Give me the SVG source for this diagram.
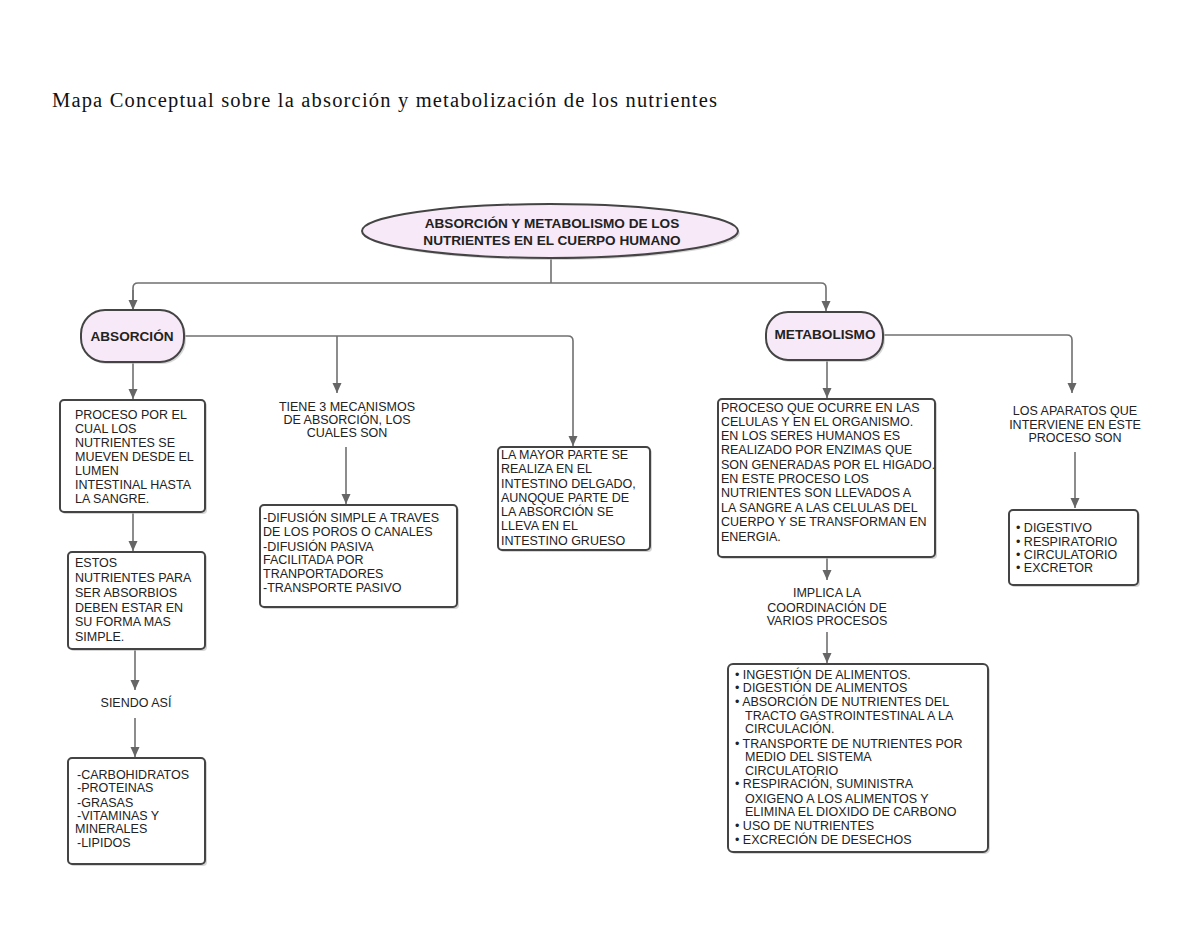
<svg xmlns="http://www.w3.org/2000/svg" width="1200" height="927" viewBox="0 0 1200 927">
<style>
.title{font-family:"Liberation Serif","DejaVu Serif",serif;font-size:20.5px;fill:#111}
.t{font-family:"Liberation Sans","DejaVu Sans",sans-serif;font-size:12.5px;fill:#222}
.tb{font-family:"Liberation Sans","DejaVu Sans",sans-serif;font-size:13.6px;font-weight:bold;fill:#222}
.box{fill:#fff;stroke:#444;stroke-width:2}
.shadow{fill:#bbb;stroke:none;opacity:0.6}
.node{fill:#f7e9f7;stroke:#444;stroke-width:2}
.c{fill:none;stroke:#707070;stroke-width:1.6}
</style>
<defs>
<marker id="arr" markerUnits="userSpaceOnUse" markerWidth="10" markerHeight="10" refX="10" refY="4.5" orient="auto">
<path d="M0,0 L10,4.5 L0,9 z" fill="#666"/>
</marker>
</defs>
<rect width="1200" height="927" fill="#fff"/>
<text class="title" x="52" y="107" textLength="665" lengthAdjust="spacing">Mapa Conceptual sobre la absorción y metabolización de los nutrientes</text>

<g id="connectors">
<path class="c" d="M551,258 V283"/>
<path class="c" d="M133,310 V288 Q133,283 138,283 H821 Q826,283 826,288 V311" marker-end="url(#arr)"/>
<path class="c" d="M133,290 V310" marker-end="url(#arr)"/>
<path class="c" d="M133,362 V399" marker-end="url(#arr)"/>
<path class="c" d="M184,336 H568 Q573,336 573,341 V446" marker-end="url(#arr)"/>
<path class="c" d="M337,336 V393" marker-end="url(#arr)"/>
<path class="c" d="M133,512 V551" marker-end="url(#arr)"/>
<path class="c" d="M135,650 V690" marker-end="url(#arr)"/>
<path class="c" d="M135,718 V757" marker-end="url(#arr)"/>
<path class="c" d="M346,447 V504" marker-end="url(#arr)"/>
<path class="c" d="M827,360 V398" marker-end="url(#arr)"/>
<path class="c" d="M883,335 H1067 Q1072,335 1072,340 V393" marker-end="url(#arr)"/>
<path class="c" d="M827,557 V580" marker-end="url(#arr)"/>
<path class="c" d="M827,632 V663" marker-end="url(#arr)"/>
<path class="c" d="M1075,452 V508" marker-end="url(#arr)"/>
</g>

<g id="root">
<ellipse class="shadow" cx="552" cy="233" rx="188" ry="27"/>
<ellipse class="node" cx="550" cy="231" rx="188" ry="27"/>
<text class="tb" x="552" y="228" text-anchor="middle">ABSORCIÓN Y METABOLISMO DE LOS</text>
<text class="tb" x="552" y="245" text-anchor="middle">NUTRIENTES EN EL CUERPO HUMANO</text>
</g>

<g id="absorcion">
<rect class="shadow" x="83" y="312" width="103" height="52" rx="24"/>
<rect class="node" x="81" y="310" width="103" height="52" rx="24"/>
<text class="tb" x="132" y="341" text-anchor="middle">ABSORCIÓN</text>
</g>

<g id="metabolismo">
<rect class="shadow" x="768" y="314" width="117" height="48" rx="22"/>
<rect class="node" x="766" y="312" width="117" height="48" rx="22"/>
<text class="tb" x="825" y="339" text-anchor="middle">METABOLISMO</text>
</g>

<g id="proceso-absorcion">
<rect class="shadow" x="62" y="402" width="145" height="112" rx="4"/>
<rect class="box" x="60" y="400" width="145" height="112" rx="4"/>
<text class="t" x="75" y="419">PROCESO POR EL</text>
<text class="t" x="75" y="433">CUAL LOS</text>
<text class="t" x="75" y="447">NUTRIENTES SE</text>
<text class="t" x="75" y="461">MUEVEN DESDE EL</text>
<text class="t" x="75" y="475">LUMEN</text>
<text class="t" x="75" y="489">INTESTINAL HASTA</text>
<text class="t" x="75" y="503">LA SANGRE.</text>
</g>

<g id="estos-nutrientes">
<rect class="shadow" x="70" y="554" width="137" height="97" rx="4"/>
<rect class="box" x="68" y="552" width="137" height="97" rx="4"/>
<text class="t" x="75" y="567">ESTOS</text>
<text class="t" x="75" y="582">NUTRIENTES PARA</text>
<text class="t" x="75" y="597">SER ABSORBIOS</text>
<text class="t" x="75" y="612">DEBEN ESTAR EN</text>
<text class="t" x="75" y="626">SU FORMA MAS</text>
<text class="t" x="75" y="641">SIMPLE.</text>
</g>

<g id="siendo-asi">
<text class="t" x="136" y="707" text-anchor="middle">SIENDO ASÍ</text>
</g>

<g id="nutrientes-lista">
<rect class="shadow" x="70" y="760" width="137" height="106" rx="4"/>
<rect class="box" x="68" y="758" width="137" height="106" rx="4"/>
<text class="t" x="77" y="779">-CARBOHIDRATOS</text>
<text class="t" x="77" y="792">-PROTEINAS</text>
<text class="t" x="77" y="807">-GRASAS</text>
<text class="t" x="77" y="820">-VITAMINAS Y</text>
<text class="t" x="75" y="833">MINERALES</text>
<text class="t" x="77" y="847">-LIPIDOS</text>
</g>

<g id="tiene-3">
<text class="t" x="347" y="411" text-anchor="middle">TIENE 3 MECANISMOS</text>
<text class="t" x="347" y="424" text-anchor="middle">DE ABSORCIÓN, LOS</text>
<text class="t" x="347" y="437" text-anchor="middle">CUALES SON</text>
</g>

<g id="mecanismos">
<rect class="shadow" x="262" y="507" width="197" height="102" rx="4"/>
<rect class="box" x="260" y="505" width="197" height="102" rx="4"/>
<text class="t" x="263" y="522">-DIFUSIÓN SIMPLE A TRAVES</text>
<text class="t" x="263" y="536">DE LOS POROS O CANALES</text>
<text class="t" x="263" y="551">-DIFUSIÓN PASIVA</text>
<text class="t" x="263" y="564">FACILITADA POR</text>
<text class="t" x="263" y="578">TRANPORTADORES</text>
<text class="t" x="263" y="592">-TRANSPORTE PASIVO</text>
</g>

<g id="mayor-parte">
<rect class="shadow" x="500" y="449" width="152" height="103" rx="4"/>
<rect class="box" x="498" y="447" width="152" height="103" rx="4"/>
<text class="t" x="501" y="459">LA MAYOR PARTE SE</text>
<text class="t" x="501" y="473">REALIZA EN EL</text>
<text class="t" x="501" y="488">INTESTINO DELGADO,</text>
<text class="t" x="501" y="502">AUNQQUE PARTE DE</text>
<text class="t" x="501" y="516">LA ABSORCIÓN SE</text>
<text class="t" x="501" y="530">LLEVA EN EL</text>
<text class="t" x="501" y="545">INTESTINO GRUESO</text>
</g>

<g id="proceso-metabolismo">
<rect class="shadow" x="720" y="401" width="217" height="158" rx="4"/>
<rect class="box" x="718" y="399" width="217" height="158" rx="4"/>
<text class="t" x="721" y="412">PROCESO QUE OCURRE EN LAS</text>
<text class="t" x="721" y="426">CELULAS Y EN EL ORGANISMO.</text>
<text class="t" x="721" y="440">EN LOS SERES HUMANOS ES</text>
<text class="t" x="721" y="454">REALIZADO POR ENZIMAS QUE</text>
<text class="t" x="721" y="469">SON GENERADAS POR EL HIGADO.</text>
<text class="t" x="721" y="483">EN ESTE PROCESO LOS</text>
<text class="t" x="721" y="497">NUTRIENTES SON LLEVADOS A</text>
<text class="t" x="721" y="512">LA SANGRE A LAS CELULAS DEL</text>
<text class="t" x="721" y="526">CUERPO Y SE TRANSFORMAN EN</text>
<text class="t" x="721" y="541">ENERGIA.</text>
</g>

<g id="implica">
<text class="t" x="827" y="597" text-anchor="middle">IMPLICA LA</text>
<text class="t" x="827" y="612" text-anchor="middle">COORDINACIÓN DE</text>
<text class="t" x="827" y="625" text-anchor="middle">VARIOS PROCESOS</text>
</g>

<g id="procesos-lista">
<rect class="shadow" x="730" y="666" width="260" height="188" rx="5"/>
<rect class="box" x="728" y="664" width="260" height="188" rx="5"/>
<text class="t" x="735" y="679">• INGESTIÓN DE ALIMENTOS.</text>
<text class="t" x="735" y="692">• DIGESTIÓN DE ALIMENTOS</text>
<text class="t" x="735" y="706">• ABSORCIÓN DE NUTRIENTES DEL</text>
<text class="t" x="745" y="720">TRACTO GASTROINTESTINAL A LA</text>
<text class="t" x="745" y="733">CIRCULACIÓN.</text>
<text class="t" x="735" y="748">• TRANSPORTE DE NUTRIENTES POR</text>
<text class="t" x="745" y="761">MEDIO DEL SISTEMA</text>
<text class="t" x="745" y="775">CIRCULATORIO</text>
<text class="t" x="735" y="788">• RESPIRACIÓN, SUMINISTRA</text>
<text class="t" x="745" y="803">OXIGENO A LOS ALIMENTOS Y</text>
<text class="t" x="745" y="816">ELIMINA EL DIOXIDO DE CARBONO</text>
<text class="t" x="735" y="830">• USO DE NUTRIENTES</text>
<text class="t" x="735" y="844">• EXCRECIÓN DE DESECHOS</text>
</g>

<g id="aparatos">
<text class="t" x="1075" y="415" text-anchor="middle">LOS APARATOS QUE</text>
<text class="t" x="1075" y="429" text-anchor="middle">INTERVIENE EN ESTE</text>
<text class="t" x="1075" y="442" text-anchor="middle">PROCESO SON</text>
</g>

<g id="aparatos-lista">
<rect class="shadow" x="1011" y="512" width="129" height="75" rx="4"/>
<rect class="box" x="1009" y="510" width="129" height="75" rx="4"/>
<text class="t" x="1016" y="532">• DIGESTIVO</text>
<text class="t" x="1016" y="546">• RESPIRATORIO</text>
<text class="t" x="1016" y="559">• CIRCULATORIO</text>
<text class="t" x="1016" y="572">• EXCRETOR</text>
</g>
</svg>
